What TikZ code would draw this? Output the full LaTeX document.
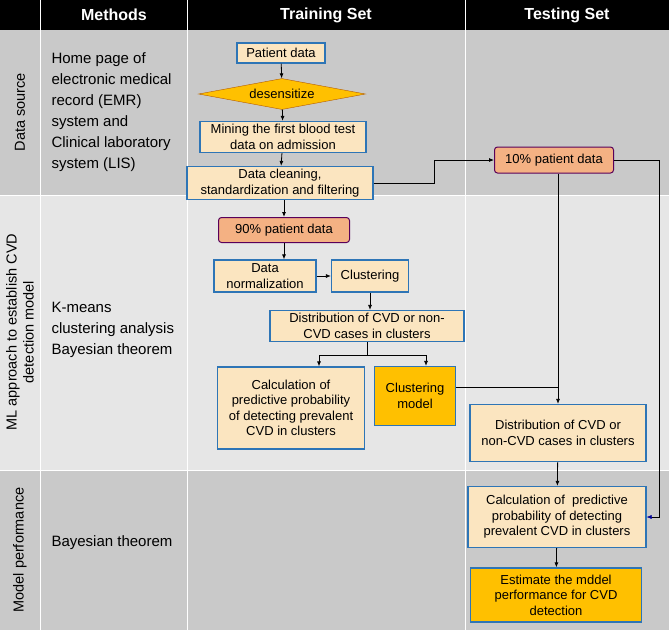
\documentclass[tikz,border=0pt]{standalone}
\usepackage{fontspec}
\setmainfont{Liberation Sans}
\usetikzlibrary{shapes.geometric,arrows.meta}
\definecolor{cream}{HTML}{FBE5C0}
\definecolor{boxblue}{HTML}{2E75B6}
\definecolor{gold}{HTML}{FFC000}
\definecolor{salmon}{HTML}{F4B183}
\definecolor{rowdark}{HTML}{C9C9C9}
\definecolor{rowlight}{HTML}{E6E6E6}
\begin{document}
\begin{tikzpicture}[x=1pt,y=-1pt,
    font=\fontsize{13}{15.5}\selectfont,
    box/.style={draw=boxblue, line width=1.2pt, fill=cream, inner sep=0pt, align=center},
    keybox/.style={box, fill=gold},
    split/.style={draw=violet!70!black, line width=1pt, fill=salmon, rounded corners=3pt, inner sep=0pt},
    arr/.style={-{Latex[length=5pt,width=4pt]}, thick},
    head/.style={white, font=\fontsize{16}{18}\selectfont\bfseries},
    side/.style={rotate=90, align=center, font=\fontsize{14.5}{17}\selectfont},
    lbl/.style={align=left, anchor=west, font=\fontsize{15}{21}\selectfont}]
    \useasboundingbox (0,0) rectangle (669,630);
    % Hintergrund
    \fill[black] (0,0) rectangle (669,30);
    \fill[rowdark] (0,30) rectangle (669,195);
    \fill[rowlight] (0,195) rectangle (669,470);
    \fill[rowdark] (0,470) rectangle (669,630);
    \draw[white, line width=1pt] (40,0) -- (40,630) (187,0) -- (187,630) (465,0) -- (465,630);
    \draw[white, line width=1pt] (0,195) -- (669,195) (0,470) -- (669,470);
    \node[head] (h1) at (114,15) {Methods};
    \node[head] (h2) at (326,15) {Training Set};
    \node[head] (h3) at (567,15) {Testing Set};

    % Zeilen
    \node[side] (r1) at (20,112) {Data source};
    \node[side] (r2) at (20,332) {ML approach to establish CVD\\detection model};
    \node[side] (r3) at (20,550) {Model performance};
    \node[lbl] (m1) at (48,112) {Home page of\\electronic medical\\record (EMR)\\system and\\Clinical laboratory\\system (LIS)};
    \node[lbl] (m2) at (48,330) {K-means\\clustering analysis\\Bayesian theorem};
    \node[lbl] (m3) at (48,543) {Bayesian theorem};

    % Training
    \node[box, minimum width=88, minimum height=20] (pd) at (281,53) {Patient data};
    \node[diamond, aspect=6, draw=orange!70!black, fill=gold, minimum width=167, minimum height=31, inner sep=0pt] (des) at (282,94) {desensitize};
    \node[box, minimum width=166, minimum height=31] (mine) at (283,137) {Mining the first blood test\\data on admission};
    \node[box, minimum width=186, minimum height=33] (clean) at (280,183) {Data cleaning,\\standardization and filtering};
    \node[split, minimum width=131, minimum height=25] (p90) at (284,230) {90\% patient data};
    \node[box, minimum width=102, minimum height=32] (norm) at (265,276) {Data\\normalization};
    \node[box, minimum width=77, minimum height=32] (clu) at (370,276) {Clustering};
    \node[box, minimum width=194, minimum height=31] (dist) at (367,326) {Distribution of CVD or non-\\CVD cases in clusters};
    \node[box, minimum width=147, minimum height=82] (calc) at (291,408) {Calculation of\\predictive probability\\of detecting prevalent\\CVD in clusters};
    \node[keybox, minimum width=81, minimum height=59] (model) at (415,396) {Clustering\\model};

    % Testing
    \node[split, minimum width=119, minimum height=26] (p10) at (554,160) {10\% patient data};
    \node[box, minimum width=176, minimum height=57] (tdist) at (558,433) {Distribution of CVD or\\non-CVD cases in clusters};
    \node[box, minimum width=178, minimum height=61] (tcalc) at (557,517) {Calculation of~ predictive\\probability of detecting\\prevalent CVD in clusters};
    \node[keybox, minimum width=171, minimum height=54] (est) at (556,595) {Estimate the mddel\\performance for CVD\\detection};

    % Pfeile
    \draw[arr] (pd) -- (des);
    \draw[arr] (des) -- (mine);
    \draw[arr] (mine) -- (clean);
    \draw[arr] (clean.south -| 284,0) -- (p90.north -| 284,0);
    \draw[arr] (p90.south -| 284,0) -- (norm.north -| 284,0);
    \draw[arr] (norm) -- (clu);
    \draw[arr] (clu) -- (clu |- dist.north);
    \draw[thick] (dist.south) -- (367,355);
    \draw[arr] (367,355) -| (calc.north -| 319,0);
    \draw[arr] (367,355) -| (model.north -| 426,0);
    \draw[arr] (clean.east) -- (434,183) |- (p10.west);
    \draw[arr] (p10.south -| tdist.north) -- (tdist.north);
    \draw[thick] (model.east |- 0,387) -- (558,387);
    \draw[thick] (p10.east) -- (659,160) |- (652,517);
    \draw[-{Latex[length=5pt,width=4pt]}, draw=blue!60!black] (652,517) -- (tcalc.east);
    \draw[arr] (tdist) -- (tcalc);
    \draw[arr] (tcalc) -- (est);
\end{tikzpicture}
\end{document}
